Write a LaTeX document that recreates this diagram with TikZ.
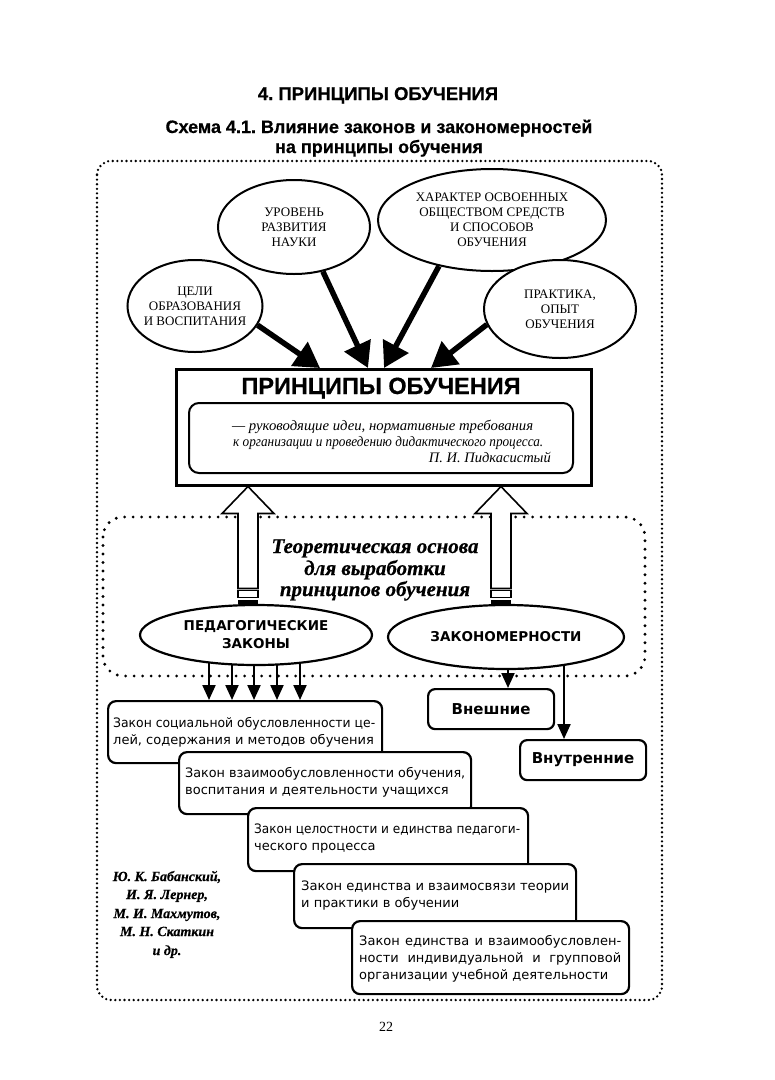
\documentclass[tikz,border=0pt]{standalone}
\usepackage{fontspec}
\usepackage{graphicx}
\setmainfont{Liberation Serif}
\newfontfamily\arialf{Liberation Sans}
\newfontfamily\heavyf[FakeBold=0.6]{Liberation Sans}
\newfontfamily\heavyserif[FakeBold=0.5]{Liberation Serif}
\newfontfamily\tahf{DejaVu Sans}
\usetikzlibrary{shapes.geometric,arrows.meta,calc,backgrounds}
\frenchspacing
\begin{document}
\begin{tikzpicture}[x=1pt,y=-1pt,
  outerdot/.style={line width=2.6pt, line cap=round, dash pattern=on 0pt off 4.6pt, rounded corners=14pt},
  innerdot/.style={line width=3.2pt, line cap=round, dash pattern=on 0pt off 8.5pt, rounded corners=20pt},
  ell/.style={ellipse, draw, line width=2pt, fill=white, inner sep=0pt},
  elltxt/.style={align=center, inner sep=0pt, font=\fontsize{13}{15}\selectfont},
  bell/.style={ellipse, draw, line width=2.2pt, fill=white, inner sep=0pt, align=center,
    font=\tahf\bfseries\fontsize{13.5}{18}\selectfont},
  bigarr/.style={line width=5.5pt, -{Triangle[length=25pt,width=28pt]}},
  smallarr/.style={line width=2.2pt, -{Triangle[length=15pt,width=13pt]}},
  hollow/.style={draw, line width=1.6pt, fill=white, line join=miter},
  lawbox/.style={draw, line width=2.2pt, rounded corners=8pt, fill=white, anchor=north west, inner sep=0pt},
  lawtxt/.style={anchor=base west, inner sep=0pt, font=\tahf\fontsize{13}{17}\selectfont},
  smbox/.style={draw, line width=2.2pt, rounded corners=7pt, fill=white, inner sep=0pt,
    font=\tahf\bfseries\fontsize{15}{17}\selectfont},
  auth/.style={anchor=base, inner sep=0pt, font=\heavyserif\bfseries\itshape\fontsize{14}{17}\selectfont},
  theo/.style={anchor=base, inner sep=0pt, font=\heavyserif\bfseries\itshape\fontsize{21}{22}\selectfont},
  quotetxt/.style={inner sep=0pt, font=\itshape\fontsize{14.5}{17}\selectfont}
]
\begin{scope}[on background layer]
\fill[white] (0,0) rectangle (775,1080);
\end{scope}
\useasboundingbox (0,0) rectangle (775,1080);

% titles
\node[anchor=base, inner sep=0pt, font=\heavyf\bfseries\fontsize{18.5}{20}\selectfont] (title) at (378,100) {4. ПРИНЦИПЫ ОБУЧЕНИЯ};
\node[anchor=base, inner sep=0pt, font=\heavyf\bfseries\fontsize{18}{20}\selectfont] (sub1) at (379,133) {Схема 4.1. Влияние законов и закономерностей};
\node[anchor=base, inner sep=0pt, font=\heavyf\bfseries\fontsize{18}{20}\selectfont] (sub2) at (379,153) {на принципы обучения};

% outer dotted frame
\draw[outerdot] (97,161) rectangle (662,1000);

% top ellipses
\node[ell, minimum width=135, minimum height=92, label={[elltxt]center:ЦЕЛИ\\ОБРАЗОВАНИЯ\\И ВОСПИТАНИЯ}] (e1) at (195,306) {};
\node[ell, minimum width=152, minimum height=94, label={[elltxt]center:УРОВЕНЬ\\РАЗВИТИЯ\\НАУКИ}] (e2) at (294,227) {};
\node[ell, minimum width=228, minimum height=102, label={[elltxt]center:ХАРАКТЕР ОСВОЕННЫХ\\ОБЩЕСТВОМ СРЕДСТВ\\И СПОСОБОВ\\ОБУЧЕНИЯ}] (e3) at (492,220) {};
\node[ell, minimum width=152, minimum height=98, label={[elltxt]center:ПРАКТИКА,\\ОПЫТ\\ОБУЧЕНИЯ}] (e4) at (560,309) {};

% principles box
\node[draw, line width=2.5pt, minimum width=415, minimum height=116, anchor=north west, inner sep=0pt] (pb) at (175,368) {};
\node[anchor=base, inner sep=0pt, font=\heavyf\bfseries\fontsize{23.5}{28}\selectfont] (pbt) at (381,394) {ПРИНЦИПЫ ОБУЧЕНИЯ};
\node[draw, line width=2pt, rounded corners=10pt, minimum width=384, minimum height=70, anchor=north west, inner sep=0pt] (def) at (188,402) {};
\node[quotetxt, anchor=base west] (q1) at (232,430) {\resizebox{301pt}{\height}{— руководящие идеи, нормативные требования}};
\node[quotetxt, anchor=base west] (q2) at (233,446) {\resizebox{310pt}{\height}{к организации и проведению дидактического процесса.}};
\node[quotetxt, anchor=base east] (q3) at (551,462) {П. И. Пидкасистый};

% arrows into principles box
\coordinate (x1) at (320,0);
\coordinate (x2) at (368,0);
\coordinate (x3) at (384,0);
\coordinate (x4) at (431,0);
\draw[bigarr] (e1.-17) -- (pb.north -| x1);
\draw[bigarr] (e2.-57) -- (pb.north -| x2);
\draw[bigarr] (e3.-139) -- (pb.north -| x3);
\draw[bigarr] (e4.-168) -- (pb.north -| x4);

% inner dotted frame
\draw[innerdot] (103,517) rectangle (645,676);

% theory text
\node[theo] (th1) at (375,553) {Теоретическая основа};
\node[theo] (th2) at (375,575) {для выработки};
\node[theo] (th3) at (375,596) {принципов обучения};

% lower ellipses
\node[bell, minimum width=232, minimum height=60] (ped) at (256,635) {ПЕДАГОГИЧЕСКИЕ\\ЗАКОНЫ};
\node[bell, minimum width=236, minimum height=64] (zak) at (506,637) {ЗАКОНОМЕРНОСТИ};

% hollow arrows
\coordinate (hL) at (248,0);
\coordinate (hR) at (501,0);
\foreach \h in {hL,hR}{
  \path (pb.south -| \h) coordinate (\h tip);
  \draw[hollow] (\h tip) -- ++(26,27) -- ++(-16,0) -- ++(0,75) -- ++(-20,0) -- ++(0,-75) -- ++(-16,0) -- cycle;
  \draw[line width=1.4pt, fill=white] ($(\h tip)+(-10,104)$) rectangle ++(20,7);
  \fill[black] ($(\h tip)+(-10,113)$) rectangle ++(20,4);
  \draw[line width=1pt] ($(\h tip)+(-10,119)$) -- ++(20,0);
}

% law boxes
\node[lawbox, minimum width=274, minimum height=62] (law1) at (107,700) {};
\node[lawtxt] (l1a) at (113,727) {\resizebox{262pt}{\height}{Закон социальной обусловленности це-}};
\node[lawtxt] (l1b) at (113,744) {лей, содержания и методов обучения};

\node[lawbox, minimum width=292, minimum height=62] (law2) at (178,751) {};
\node[lawtxt] (l2a) at (185,777) {\resizebox{280pt}{\height}{Закон взаимообусловленности обучения,}};
\node[lawtxt] (l2b) at (185,794) {воспитания и деятельности учащихся};

\node[lawbox, minimum width=280, minimum height=63] (law3) at (247,807) {};
\node[lawtxt] (l3a) at (254,833) {\resizebox{266pt}{\height}{Закон целостности и единства педагоги-}};
\node[lawtxt] (l3b) at (254,850) {ческого процесса};

\node[lawbox, minimum width=282, minimum height=64] (law4) at (293,863) {};
\node[lawtxt] (l4a) at (301,890) {\resizebox{268pt}{\height}{Закон единства и взаимосвязи теории}};
\node[lawtxt] (l4b) at (301,907) {и практики в обучении};

\node[lawbox, minimum width=277, minimum height=73] (law5) at (351,920) {};
\node[lawtxt] (l5a) at (359,945) {\makebox[262pt][s]{Закон единства и взаимообусловлен-}};
\node[lawtxt] (l5b) at (359,962) {\makebox[262pt][s]{ности индивидуальной и групповой}};
\node[lawtxt] (l5c) at (359,979) {организации учебной деятельности};

% small arrows from ped laws to first law box
\begin{scope}[on background layer]
\foreach \xx [count=\i] in {209,232,254,277,300}{
  \coordinate (s\i) at (\xx,0);
  \draw[smallarr] (ped.center -| s\i) -- (law1.north -| s\i);
}
\end{scope}

% regularities boxes
\node[smbox, minimum width=126, minimum height=40, anchor=north west] (vn) at (427,688) {Внешние};
\node[smbox, minimum width=126, minimum height=40, anchor=north west] (vt) at (519,739) {Внутренние};
\begin{scope}[on background layer]
\coordinate (r1) at (508,0);
\coordinate (r2) at (564,0);
\draw[smallarr] (zak.center -| r1) -- (vn.north -| r1);
\draw[smallarr] (zak.center -| r2) -- (vt.north -| r2);
\end{scope}

% authors
\node[auth] (a1) at (167,881) {Ю. К. Бабанский,};
\node[auth] (a2) at (167,899) {И. Я. Лернер,};
\node[auth] (a3) at (167,918) {М. И. Махмутов,};
\node[auth] (a4) at (167,936) {М. Н. Скаткин};
\node[auth] (a5) at (167,955) {и др.};

% page number
\node[anchor=base, inner sep=0pt, font=\fontsize{14}{16}\selectfont] (pg) at (386,1031) {22};
\end{tikzpicture}
\end{document}
